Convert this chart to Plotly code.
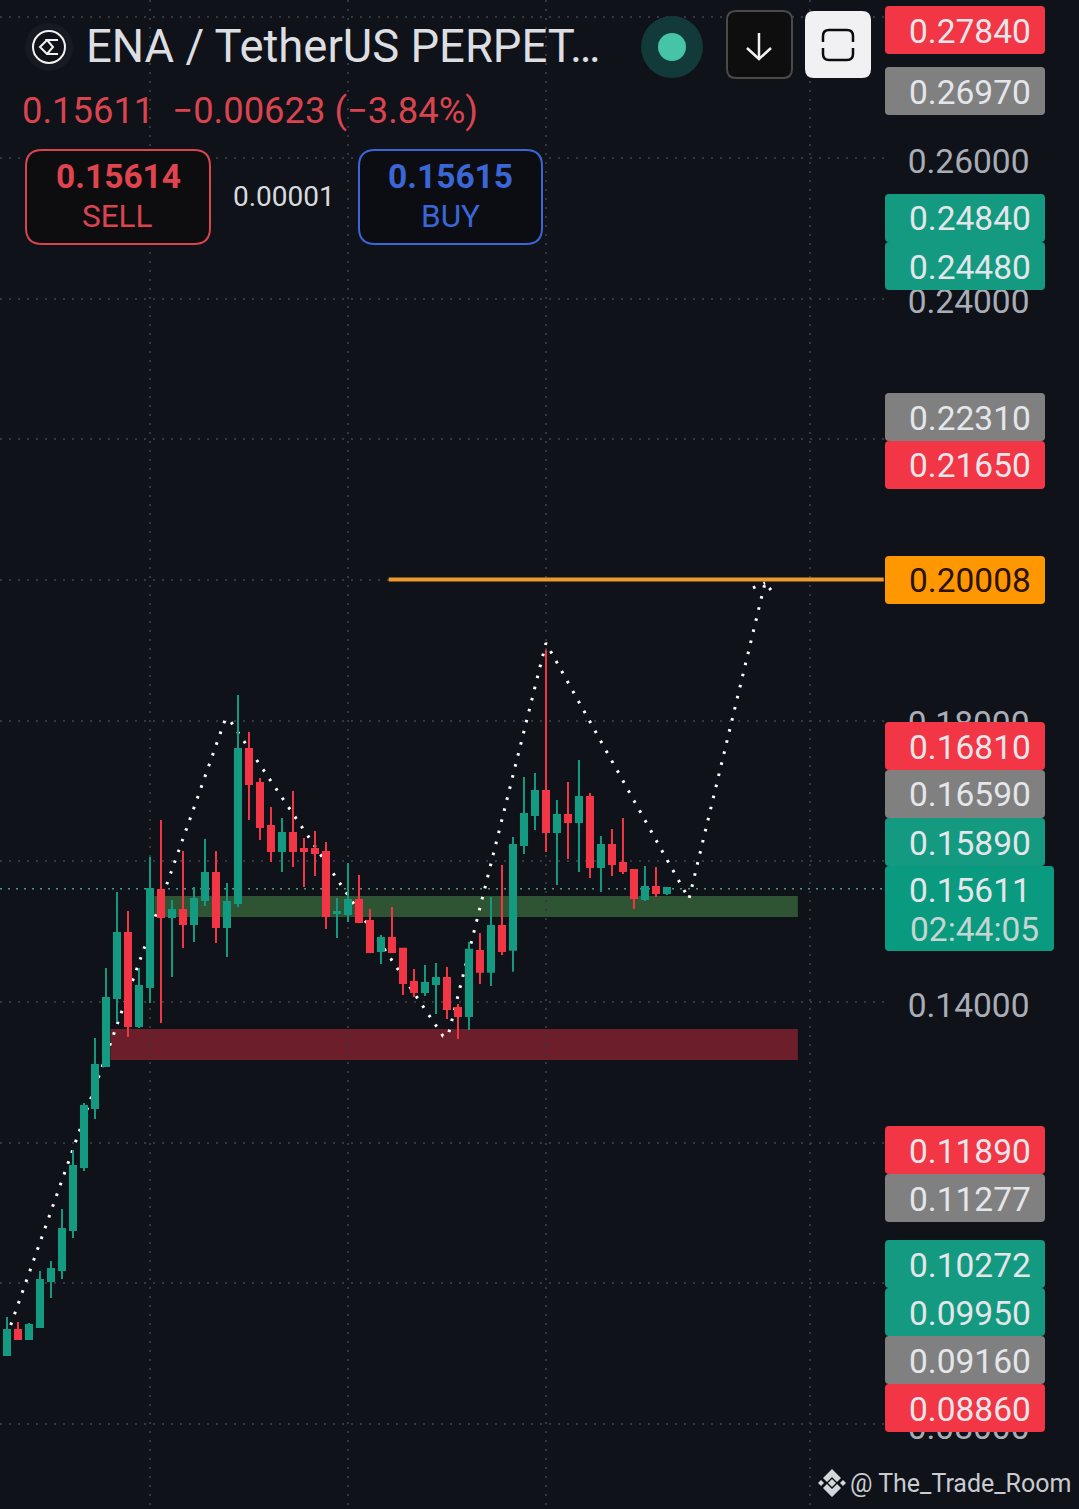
import plotly.graph_objects as go

BG = '#0f1219'
GREEN = '#149a80'
RED = '#f23645'
GRAY = '#808080'
ORANGE = '#ff9800'
W = 1079
H = 1509

# candles, left to right
candle_idx = list(range(61))
opens = [0.08981, 0.09336, 0.09208, 0.09379, 0.10033, 0.10190, 0.10758, 0.11654, 0.12493, 0.13091,
         0.14056, 0.14981, 0.13658, 0.14213, 0.15592, 0.15208, 0.15308, 0.15109, 0.15450, 0.15834,
         0.15066, 0.15407, 0.17597, 0.17113, 0.16502, 0.16147, 0.16403, 0.16176, 0.16176, 0.16133,
         0.15266, 0.15251, 0.15450, 0.15152, 0.14726, 0.14911, 0.14755, 0.14284, 0.14142, 0.14256,
         0.14341, 0.13914, 0.13801, 0.14726, 0.14429, 0.15080, 0.14741, 0.16232, 0.16659, 0.17000,
         0.16417, 0.16659, 0.16559, 0.16915, 0.15919, 0.16232, 0.15975, 0.15876, 0.15464, 0.15635,
         0.15550]
highs = [0.09521, 0.09450, 0.09436, 0.10175, 0.10317, 0.11057, 0.11896, 0.12564, 0.13488, 0.14483,
         0.15564, 0.15294, 0.14483, 0.16062, 0.16588, 0.15450, 0.16147, 0.15635, 0.16318, 0.16147,
         0.15692, 0.18365, 0.17839, 0.17184, 0.16773, 0.16616, 0.17000, 0.16332, 0.16431, 0.16275,
         0.15478, 0.15975, 0.15805, 0.15322, 0.14953, 0.15351, 0.14755, 0.14470, 0.14526, 0.14555,
         0.14498, 0.13971, 0.14854, 0.14981, 0.15493, 0.15947, 0.16346, 0.17198, 0.17255, 0.19005,
         0.16872, 0.17128, 0.17440, 0.16972, 0.16360, 0.16460, 0.16616, 0.15890, 0.15933, 0.15919,
         0.15635]
lows = [0.08967, 0.09194, 0.09208, 0.09372, 0.09791, 0.10062, 0.10645, 0.11597, 0.12337, 0.13085,
        0.13715, 0.13502, 0.13630, 0.13985, 0.13701, 0.14355, 0.14768, 0.14854, 0.15365, 0.14839,
        0.14640, 0.15351, 0.16588, 0.16303, 0.15990, 0.15848, 0.15919, 0.15635, 0.15791, 0.15038,
        0.14911, 0.15137, 0.15130, 0.14705, 0.14541, 0.14705, 0.14099, 0.14071, 0.14085, 0.13829,
        0.13758, 0.13474, 0.13602, 0.14256, 0.14227, 0.14668, 0.14429, 0.16104, 0.16446, 0.16133,
        0.15663, 0.16033, 0.15848, 0.15763, 0.15564, 0.15791, 0.15820, 0.15322, 0.15436, 0.15493,
        0.15521]
closes = [0.09336, 0.09208, 0.09408, 0.10047, 0.10203, 0.10773, 0.11668, 0.12522, 0.13104, 0.14056,
          0.14981, 0.13658, 0.14227, 0.15606, 0.15208, 0.15308, 0.15109, 0.15464, 0.15834, 0.15066,
          0.15422, 0.17597, 0.17099, 0.16488, 0.16147, 0.16403, 0.16147, 0.16147, 0.16119, 0.15223,
          0.15280, 0.15450, 0.15137, 0.14712, 0.14911, 0.14712, 0.14271, 0.14142, 0.14271, 0.14341,
          0.13900, 0.13801, 0.14741, 0.14429, 0.15080, 0.14726, 0.16232, 0.16672, 0.17000, 0.16417,
          0.16659, 0.16559, 0.16915, 0.15919, 0.16232, 0.15962, 0.15862, 0.15478, 0.15635, 0.15550,
          0.15621]

# hand drawn zigzag over the candles, last two legs are the arrow head
zigzag_idx = [0.34, 19.82, 20.18, 39.64, 40.09, 49.0, 62.0, 68.91, 69.91, None, 67.82, 68.91]
zigzag_price = [0.09408, 0.18010, 0.18024, 0.13516, 0.13516, 0.19104, 0.15464, 0.19957, 0.19773,
                None, 0.19886, 0.19957]

target_price = 0.20008
target_idx = [34.7, 79.7]
last_price = 0.15611
green_zone = (0.15209, 0.15507)
red_zone = (0.13175, 0.13616)
green_zone_idx = (13.4, 71.9)
red_zone_idx = (9.4, 71.9)

price_ticks = [0.08, 0.10, 0.12, 0.14, 0.16, 0.18, 0.20, 0.22, 0.24, 0.26, 0.28]
price_tick_text = ['0.08000', '0.10000', '0.12000', '0.14000', '0.16000', '0.18000',
                   '0.20000', '0.22000', '0.24000', '0.26000', '']
time_ticks = [13, 31, 49, 73]

# stacked labels on the price scale
badge_text = ['0.27840', '0.26970', '0.24840', '0.24480', '0.22310', '0.21650', '0.20008',
              '0.16810', '0.16590', '0.15890', '0.11890', '0.11277', '0.10272', '0.09950',
              '0.09160', '0.08860']
badge_color = [RED, GRAY, GREEN, GREEN, GRAY, RED, ORANGE, RED, GRAY, GREEN, RED, GRAY,
               GREEN, GREEN, GRAY, RED]
badge_mid = [30, 91, 218, 266, 417, 465, 580, 746, 794, 842, 1150, 1198, 1264, 1312, 1360, 1408]


def px(x):
    return x / W


def py(y):
    return 1 - y / H


def round_box(x0, y0, x1, y1, r):
    return (f"M{px(x0 + r)},{py(y0)} L{px(x1 - r)},{py(y0)} Q{px(x1)},{py(y0)} {px(x1)},{py(y0 + r)} "
            f"L{px(x1)},{py(y1 - r)} Q{px(x1)},{py(y1)} {px(x1 - r)},{py(y1)} "
            f"L{px(x0 + r)},{py(y1)} Q{px(x0)},{py(y1)} {px(x0)},{py(y1 - r)} "
            f"L{px(x0)},{py(y0 + r)} Q{px(x0)},{py(y0)} {px(x0 + r)},{py(y0)} Z")


def icon(points):
    # points are (cmd, x, y) in screen pixels
    return ' '.join(f"{c}{px(x)},{py(y)}" for c, x, y in points)


def box(x0, y0, x1, y1, r, fill, line=None, width=0):
    return dict(type='path', xref='paper', yref='paper', path=round_box(x0, y0, x1, y1, r),
                fillcolor=fill, line=dict(color=line or fill, width=width), layer='above')


def stroke(points, color, width):
    return dict(type='path', xref='paper', yref='paper', path=icon(points),
                line=dict(color=color, width=width), layer='above')


def dot(cx, cy, r, fill, line=None, width=0):
    return dict(type='circle', xref='paper', yref='paper', x0=px(cx - r), x1=px(cx + r),
                y0=py(cy + r), y1=py(cy - r), fillcolor=fill,
                line=dict(color=line or fill, width=width), layer='above')


def label(text, x, y, size, color, anchor='left', bold=False):
    t = f'<b>{text}</b>' if bold else text
    return dict(text=t, x=px(x), y=py(y), xref='paper', yref='paper', showarrow=False,
                xanchor=anchor, yanchor='middle', borderpad=0,
                font=dict(family='Roboto', size=size, color=color))


fig = go.Figure()

# zigzag sits on the primary axes so the candles cover it
fig.add_trace(go.Scatter(x=zigzag_idx, y=zigzag_price, mode='lines', xaxis='x', yaxis='y',
                         connectgaps=False,
                         line=dict(color='#ffffff', width=3, dash='2.6px,8.8px'),
                         hoverinfo='skip', showlegend=False))
fig.add_trace(go.Candlestick(x=candle_idx, open=opens, high=highs, low=lows, close=closes,
                             xaxis='x2', yaxis='y2', whiskerwidth=0,
                             increasing=dict(line=dict(color=GREEN, width=2), fillcolor=GREEN),
                             decreasing=dict(line=dict(color=RED, width=2), fillcolor=RED),
                             showlegend=False))
fig.add_trace(go.Scatter(x=target_idx, y=[target_price, target_price], mode='lines',
                         xaxis='x2', yaxis='y2', line=dict(color='#ec9a2c', width=4),
                         hoverinfo='skip', showlegend=False))

x_range = [-0.636, 79.73]
y_range = [0.06791, 0.28246]

shapes = [
    dict(type='rect', xref='x', yref='y', x0=green_zone_idx[0], x1=green_zone_idx[1],
         y0=green_zone[0], y1=green_zone[1], fillcolor='#2f5433', line_width=0, layer='below'),
    dict(type='rect', xref='x', yref='y', x0=red_zone_idx[0], x1=red_zone_idx[1],
         y0=red_zone[0], y1=red_zone[1], fillcolor='#6c1f2b', line_width=0, layer='below'),
    dict(type='line', xref='x', yref='y', x0=x_range[0], x1=x_range[1],
         y0=last_price, y1=last_price, line=dict(color='#3f9e8c', width=1.5, dash='2px,6px'),
         layer='below'),
]

annotations = []
for txt, col, mid in zip(badge_text, badge_color, badge_mid):
    shapes.append(box(885, mid - 24, 1045, mid + 24, 4, col))
    txt_col = '#2a1206' if col == ORANGE else '#e4e6ea'
    annotations.append(label(txt, 1032, mid + 1, 33.5, txt_col, 'right'))

# current price badge, two lines
shapes.append(box(885, 866, 1054, 951, 4, '#0a9a80'))
annotations.append(label('0.15611', 1031.5, 890, 33.5, '#e4e6ea', 'right'))
annotations.append(label('02:44:05', 1040, 929, 33.5, '#c5d6d2', 'right'))

# header
shapes.append(dot(49, 47, 24, '#171a20'))
shapes.append(dot(49, 47, 16, BG, '#f2f2f2', 2))
shapes.append(stroke([('M', 47, 40), ('L', 40, 47), ('L', 47, 54), ('L', 58, 54)], '#f2f2f2', 2))
shapes.append(stroke([('M', 58, 40), ('L', 47, 40), ('L', 53, 47), ('L', 47, 54)], '#f2f2f2', 2))
shapes.append(dot(672, 47, 31, '#133a3b'))
shapes.append(dot(672, 47, 14, '#46c4a8'))
shapes.append(box(727, 11, 792, 78, 9, '#0e0e0f', '#4a4a4a', 2))
shapes.append(stroke([('M', 759, 33), ('L', 759, 59)], '#f2f2f2', 2.5))
shapes.append(stroke([('M', 747, 48), ('L', 759, 59), ('L', 771, 48)], '#f2f2f2', 2.5))
shapes.append(box(805, 11, 871, 78, 9, '#f1f1f3'))
shapes.append(stroke([('M', 823, 42), ('L', 823, 36), ('Q', 823, 30), ('', 829, 30), ('L', 847, 30),
                      ('Q', 853, 30), ('', 853, 36), ('L', 853, 42)], '#0c0c0e', 2.5))
shapes.append(stroke([('M', 823, 48), ('L', 823, 54), ('Q', 823, 60), ('', 829, 60), ('L', 847, 60),
                      ('Q', 853, 60), ('', 853, 54), ('L', 853, 48)], '#0c0c0e', 2.5))
shapes.append(box(26, 150, 210, 244, 16, '#0d0d10', '#d9444f', 2))
shapes.append(box(359, 150, 542, 244, 16, '#0b0d12', '#3a66d6', 2))

annotations += [
    label('ENA / TetherUS PERPET…', 85, 47, 45.4, '#dcdee2'),
    label('0.15611  −0.00623 (−3.84%)', 21, 111, 36.4, '#d9444f'),
    label('0.15614', 118, 176, 33.5, '#e0444f', 'center', bold=True),
    label('SELL', 117, 217, 31.5, '#d9444f', 'center'),
    label('0.00001', 284, 196, 28, '#d8dade', 'center'),
    label('0.15615', 450, 176, 33.5, '#3a66d6', 'center', bold=True),
    label('BUY', 450, 217, 31.5, '#3a66d6', 'center'),
    label('@ The_Trade_Room', 849, 1483, 25, '#c9cbd0'),
]

# binance mark by the watermark
mark = '#d4d6da'
for pts in ([(832, 1469), (841, 1478), (837, 1482), (832, 1477), (827, 1482), (823, 1478)],
            [(832, 1497), (841, 1488), (837, 1484), (832, 1489), (827, 1484), (823, 1488)],
            [(832, 1479), (836, 1483), (832, 1487), (828, 1483)],
            [(821, 1480), (824, 1483), (821, 1486), (818, 1483)],
            [(843, 1480), (846, 1483), (843, 1486), (840, 1483)]):
    path = icon([('M' if i == 0 else 'L', x, y) for i, (x, y) in enumerate(pts)]) + ' Z'
    shapes.append(dict(type='path', xref='paper', yref='paper', path=path, fillcolor=mark,
                       line_width=0, layer='above'))

grid = dict(showgrid=True, gridcolor='#343840', gridwidth=1.5, griddash='2px,7px')

fig.update_layout(
    width=W,
    height=H,
    margin=dict(l=0, r=0, t=0, b=0),
    paper_bgcolor=BG,
    plot_bgcolor=BG,
    showlegend=False,
    hovermode=False,
    boxgap=0.45,
    boxgroupgap=0,
    shapes=shapes,
    annotations=annotations,
    xaxis=dict(domain=[0, 884 / W], range=x_range, tickvals=time_ticks, showticklabels=False,
               zeroline=False, showline=False, ticks='', **grid),
    yaxis=dict(range=y_range, side='right', tickvals=price_ticks, ticktext=price_tick_text,
               zeroline=False, showline=False, ticks='outside', ticklen=16, tickcolor='rgba(0,0,0,0)',
               ticklabelshift=3,
               tickfont=dict(family='Roboto', size=33.5, color='#a9adb5'), **grid),
    xaxis2=dict(domain=[0, 884 / W], range=x_range, overlaying='x', visible=False,
                rangeslider=dict(visible=False), anchor='y2'),
    yaxis2=dict(range=y_range, overlaying='y', visible=False, anchor='x2'),
)

fig.write_html("out.html", config=dict(displayModeBar=False),
               post_script="document.body.style.margin='0';document.body.style.background='#0f1219';")
